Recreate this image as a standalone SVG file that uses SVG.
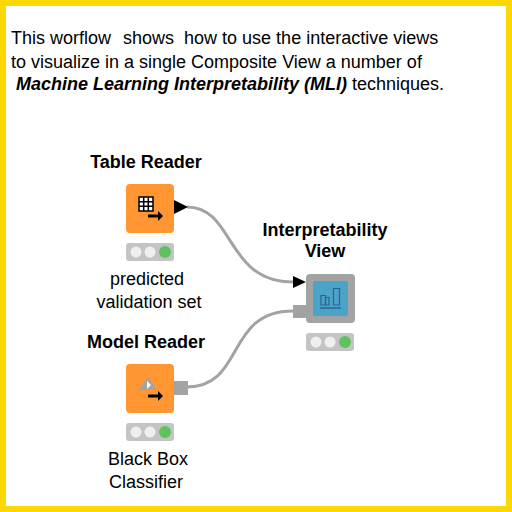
<svg xmlns="http://www.w3.org/2000/svg" width="512" height="512" viewBox="0 0 512 512">
<defs>
<style>
.t{font-family:"Liberation Sans",Arial,sans-serif;font-size:18px;fill:#000}
.b{font-weight:bold;text-anchor:middle}
.m{text-anchor:middle}
.conn{fill:none;stroke:#a3a3a3;stroke-width:3}
.orange{fill:#ff9632}
.lamp{fill:#c4c4c4}
.off{fill:#efefef}
.on{fill:#5fc25f}
</style>
<g id="lights"><rect x="0" y="0" width="48" height="18" rx="3" class="lamp"/><circle cx="10" cy="9" r="5.500" class="off"/><circle cx="24" cy="9" r="5.500" class="off"/><circle cx="39" cy="9" r="6" class="on"/></g>
<g id="outarrow"><path d="M0 0H12" fill="none" stroke="#000" stroke-width="3"/><path d="M10 -5L15 0L10 5Z" fill="#000"/></g>
</defs>
<rect x="3" y="3" width="506" height="506" fill="#fff" stroke="#ffd700" stroke-width="6"/>
<g id="description">
<text class="t" x="11" y="44" xml:space="preserve">This worflow  <tspan dx="2">shows</tspan>  how to use the interactive views</text>
<text class="t" x="11" y="68">to visualize in a single Composite View a number of</text>
<text class="t" x="11" y="90" xml:space="preserve"> <tspan font-weight="bold" font-style="italic">Machine Learning Interpretability (MLI)</tspan> techniques.</text>
</g>
<g id="connectors">
<path class="conn" d="M187 207C235 207 225 282 293 282"/>
<path class="conn" d="M187 387C245 387 225 311 293 311"/>
</g>
<g id="table-reader">
<text class="t b" x="146" y="168">Table Reader</text>
<rect x="126" y="184" width="48" height="49" rx="4" class="orange"/>
<rect x="139" y="197" width="14" height="14" fill="#fff" stroke="#000" stroke-width="1.500"/>
<path d="M139 201.700H153M139 206.300H153M143.700 197V211M148.300 197V211" stroke="#000" stroke-width="1.500"/>
<use href="#outarrow" x="148" y="216"/>
<path d="M174 200L188 207L174 214Z" fill="#000"/>
<use href="#lights" x="126" y="243"/>
<text class="t m" x="147" y="285">predicted</text>
<text class="t m" x="149" y="308">validation set</text>
</g>
<g id="model-reader">
<text class="t b" x="146" y="348">Model Reader</text>
<rect x="126" y="364" width="48" height="49" rx="4" class="orange"/>
<path d="M148 377L157 390H138Z" fill="#a3a3a3"/>
<path d="M147 381L151 385L147 389Z" fill="#fff"/>
<use href="#outarrow" x="148" y="396"/>
<rect x="174" y="381" width="14" height="14" fill="#a3a3a3"/>
<use href="#lights" x="126" y="423"/>
<text class="t m" x="148" y="465">Black Box</text>
<text class="t m" x="146" y="488">Classifier</text>
</g>
<g id="interpretability-view">
<text class="t b" x="325" y="236">Interpretability</text>
<text class="t b" x="325" y="257">View</text>
<rect x="306" y="274" width="49" height="49" rx="4" fill="#a3a3a3"/>
<rect x="313" y="281" width="35" height="35" rx="2" fill="#4ba3c9"/>
<g fill="none" stroke="#2a6685" stroke-width="1.200">
<path d="M321 295.500H325.500V305H321Z"/>
<path d="M329 297.500V305H325.500V297.500Z"/>
<path d="M333.500 288.500H339.500V305H333.500Z"/>
<path d="M320 308H341" stroke-width="1.500"/>
</g>
<path d="M293 276L306 282L293 288Z" fill="#000"/>
<rect x="293" y="305" width="13" height="13" fill="#a3a3a3"/>
<use href="#lights" x="306" y="333"/>
</g>
</svg>
